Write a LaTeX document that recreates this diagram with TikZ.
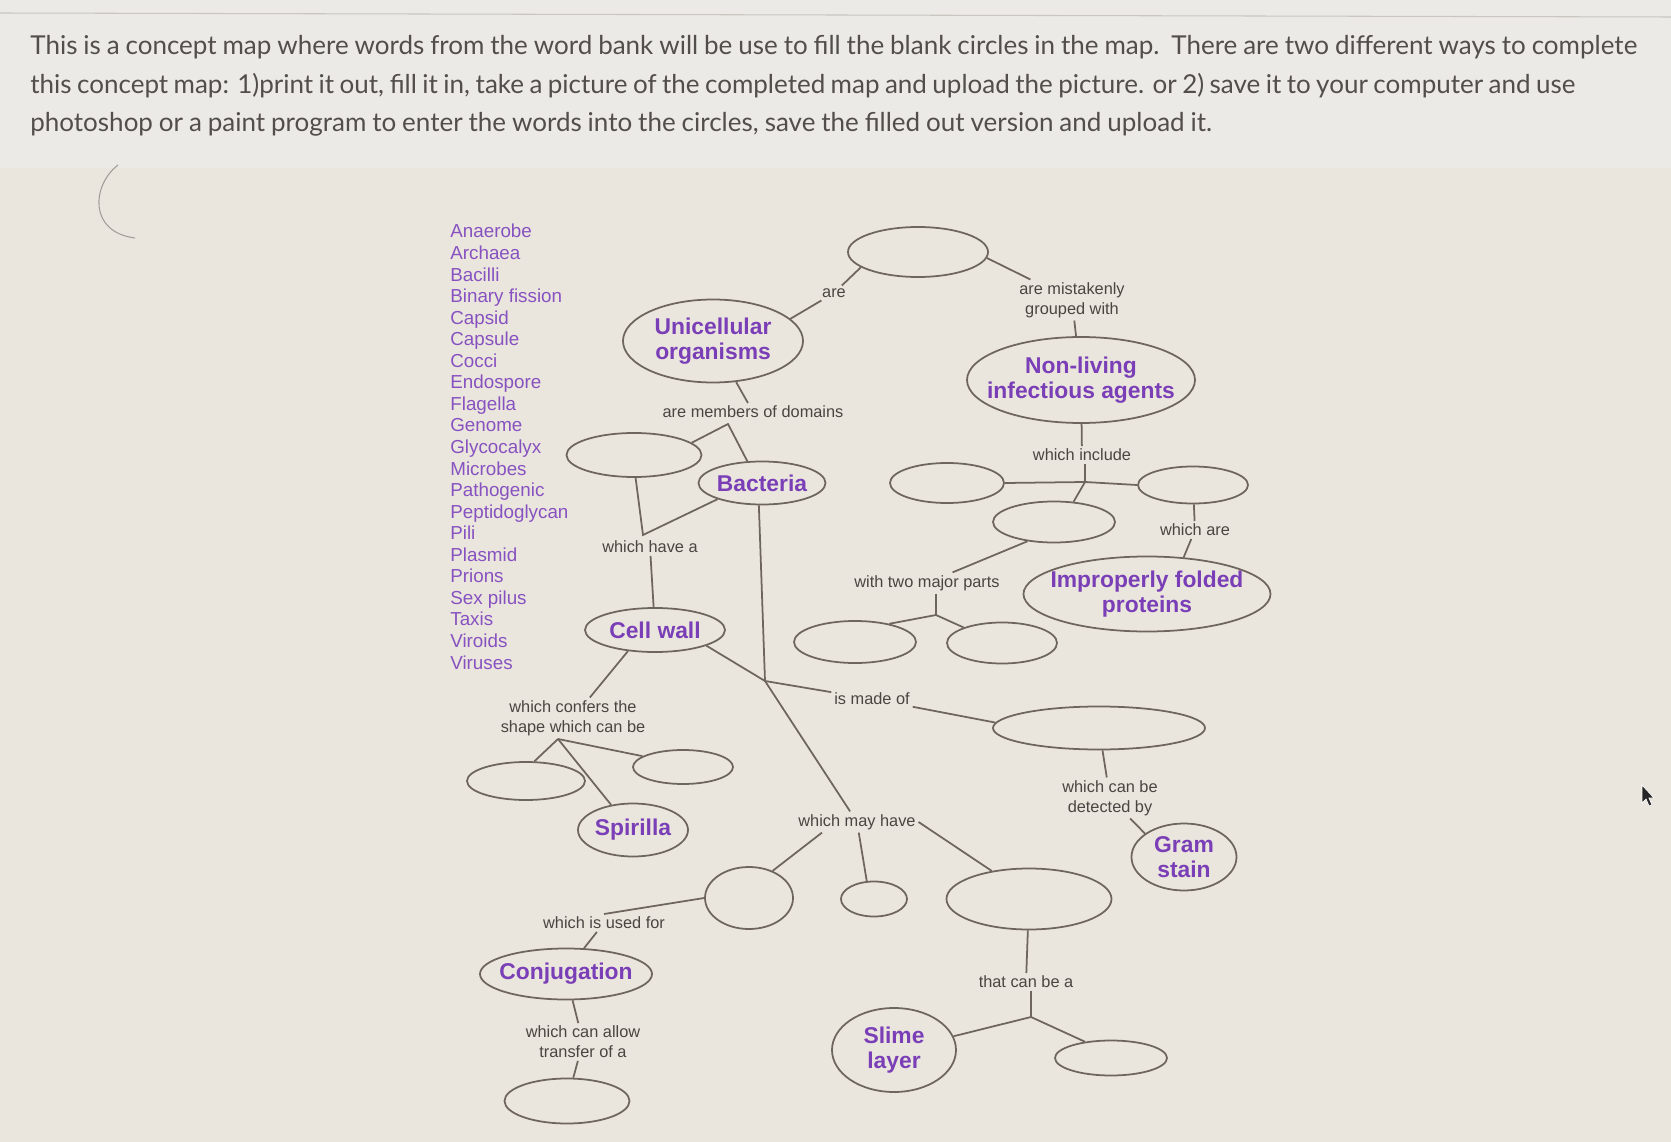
\documentclass[tikz,border=0pt]{standalone}
\usepackage{fontspec}
\setmainfont{Liberation Sans}
\newfontfamily\latofont{Lato}
\usetikzlibrary{shapes.geometric,calc}
\definecolor{bgtop}{HTML}{EBEAE6}
\definecolor{bgmain}{HTML}{EAE6DE}
\definecolor{linec}{HTML}{6E655C}
\definecolor{labc}{HTML}{4A4540}
\definecolor{conc}{HTML}{7A3FB6}
\definecolor{wbc}{HTML}{8752C0}
\definecolor{topc}{HTML}{524F4B}
\definecolor{faint}{HTML}{C9C6BF}
\begin{document}
\begin{tikzpicture}[x=0.02cm,y=-0.02cm,
  ell/.style 2 args={ellipse, draw=linec, line width=1pt, minimum width=#1*0.02cm, minimum height=#2*0.02cm, inner sep=0pt},
  ctext/.style={text=conc, font=\fontsize{13}{14.5}\selectfont\bfseries, align=center, inner sep=0pt},
  lab/.style={text=labc, font=\fontsize{9.3}{11.3}\selectfont, align=center, inner sep=1.5pt},
  conn/.style={draw=linec, line width=1pt},
  wordbank/.style={text=wbc, font=\fontsize{10.7}{12}\selectfont, inner sep=0pt},
  toptext/.style={text=topc, font=\latofont\fontsize{14.8}{18}\selectfont, inner sep=0pt, anchor=base west}
]
\fill[bgmain] (0,0) rectangle (1671,1142);
\fill[bgtop] (0,0) rectangle (1671,168);
\useasboundingbox (0,0) rectangle (1671,1142);
\draw[faint, line width=0.6pt] (0,13) -- (1671,17);
\draw[faint!80!black, line width=0.6pt] (118,165) .. controls (92,185) and (88,232) .. (135,238);
\fill[black!85, draw=white, line width=0.4pt] (1642,785) -- (1642,803) -- (1646,799) -- (1649,806) -- (1652,805) -- (1649,798) -- (1654,798) -- cycle;

% instruction text
\node[toptext] (t1) at (30,55) {\makebox[32.14cm][s]{This is a concept map where words from the word bank will be use to fill the blank circles in the map.\ \ There are two different ways to complete}};
\node[toptext] (t2) at (30,94) {\makebox[30.90cm][s]{this concept map: 1)print it out, fill it in, take a picture of the completed map and upload the picture. or 2) save it to your computer and use}};
\node[toptext] (t3) at (30,132) {\makebox[23.64cm][s]{photoshop or a paint program to enter the words into the circles, save the filled out version and upload it.}};

% word bank
\foreach \w [count=\i] in {Anaerobe,Archaea,Bacilli,Binary fission,Capsid,Capsule,Cocci,Endospore,Flagella,Genome,Glycocalyx,Microbes,Pathogenic,Peptidoglycan,Pili,Plasmid,Prions,Sex pilus,Taxis,Viroids,Viruses}
  \node[wordbank, anchor=base west] (wb\i) at (450,{238+21.55*(\i-1)}) {\w};

% concepts and blanks
\node[ell={180}{83}, label={[ctext]center:Unicellular\\organisms}] (uni) at (713,341) {};
\node[ell={140}{50}] (topb) at (918,252) {};
\node[ell={228}{86}, label={[ctext]center:Non-living\\infectious agents}] (nonliv) at (1081,380) {};
\node[ell={114}{40}] (vL) at (947,483) {};
\node[ell={110}{37}] (vR) at (1193,485) {};
\node[ell={122}{41}] (vM) at (1054,522) {};
\node[ell={247}{75}, label={[ctext]center:Improperly folded\\proteins}] (prion) at (1147,594) {};
\node[ell={122}{42}] (partL) at (855,642) {};
\node[ell={110}{41}] (partR) at (1002,643) {};
\node[ell={135}{44}] (dom) at (634,455) {};
\node[ell={127}{43}, label={[ctext]center:Bacteria}] (bact) at (762,483) {};
\node[ell={140}{44}, label={[ctext]center:Cell wall}] (cell) at (655,630) {};
\node[ell={212}{43}] (madeof) at (1099,728) {};
\node[ell={105}{67}, label={[ctext]center:Gram\\stain}] (gram) at (1184,857) {};
\node[ell={118}{38}] (shL) at (526,781) {};
\node[ell={100}{34}] (shR) at (683,767) {};
\node[ell={110}{53}, label={[ctext]center:Spirilla}] (spir) at (633,830) {};
\node[ell={88}{62}] (circ) at (749,898) {};
\node[ell={66}{35}] (small) at (874,899) {};
\node[ell={165}{61}] (cap) at (1029,899) {};
\node[ell={172}{51}, label={[ctext]center:Conjugation}] (conj) at (566,974) {};
\node[ell={125}{45}] (plas) at (567,1101) {};
\node[ell={124}{84}, label={[ctext]center:Slime\\layer}] (slime) at (894,1050) {};
\node[ell={112}{35}] (rb) at (1111,1058) {};

% linking phrases
\node[lab] (lare) at (834,293) {are};
\node[lab] (lmist) at (1072,300) {are mistakenly\\grouped with};
\node[lab] (lincl) at (1082,455) {which include};
\node[lab] (lwhare) at (1195,530) {which are};
\node[lab] (ltwo) at (927,583) {with two major parts};
\node[lab] (ldom) at (753,412) {are members of domains};
\node[lab] (lhave) at (650,547) {which have a};
\node[lab] (lmade) at (872,699) {is made of};
\node[lab] (lconf) at (573,718) {which confers the\\shape which can be};
\node[lab] (lmay) at (857,822) {which may have};
\node[lab] (lused) at (604,923) {which is used for};
\node[lab] (lallow) at (583,1042) {which can allow\\transfer of a};
\node[lab] (ldet) at (1110,798) {which can be\\detected by};
\node[lab] (lthat) at (1026,982) {that can be a};

% junctions
\coordinate (j1) at (1085,482);
\coordinate (j2) at (936,615);
\coordinate (j3) at (728,424);
\coordinate (j4) at (643,535);
\coordinate (k) at (765,681);
\coordinate (j5) at (558,739);
\coordinate (j6) at (1031,1017);

% connectors
\draw[conn] (uni.16) -- (lare) -- (topb.195);
\draw[conn] (topb.-5) -- (lmist) -- (nonliv);
\draw[conn] (nonliv) -- (lincl);
\draw[conn] (j1 |- lincl.south) -- (j1);
\draw[conn] (vL.east) -- (j1) -- (vR.west);
\draw[conn] (j1) -- (vM.46);
\draw[conn] (vR) -- (lwhare) -- (prion.45);
\draw[conn] (vM.216) -- (ltwo);
\draw[conn] (j2 |- ltwo.south) -- (j2);
\draw[conn] (partL.28) -- (j2) -- (partR.158);
\draw[conn] (uni) -- (ldom);
\draw[conn] (dom.12) -- (j3) -- (bact.124);
\draw[conn] (dom.-86) -- (j4) -- (bact.200);
\draw[conn] (lhave) -- (cell);
\draw[conn] (bact.262) -- (k) -- (lmay);
\draw[conn] (cell.343) -- (k) -- (lmade) -- (madeof.177);
\draw[conn] (madeof) -- (ldet) -- (gram.149);
\draw[conn] (cell.218) -- (lconf);
\draw[conn] (j5) -- (shL.67);
\draw[conn] (j5) -- (shR.165);
\draw[conn] (j5) -- (spir.131);
\draw[conn] ($(lmay.south)+(-35,0)$) -- (circ.49);
\draw[conn] (lmay) -- (small.112);
\draw[conn] (lmay.east) -- (cap.143);
\draw[conn] (circ.west) -- (lused.north);
\draw[conn] (lused) -- (conj.55);
\draw[conn] (conj) -- (lallow) -- (plas);
\draw[conn] (cap) -- (lthat);
\draw[conn] (j6 |- lthat.south) -- (j6);
\draw[conn] (slime.13) -- (j6) -- (rb.148);
\end{tikzpicture}
\end{document}
